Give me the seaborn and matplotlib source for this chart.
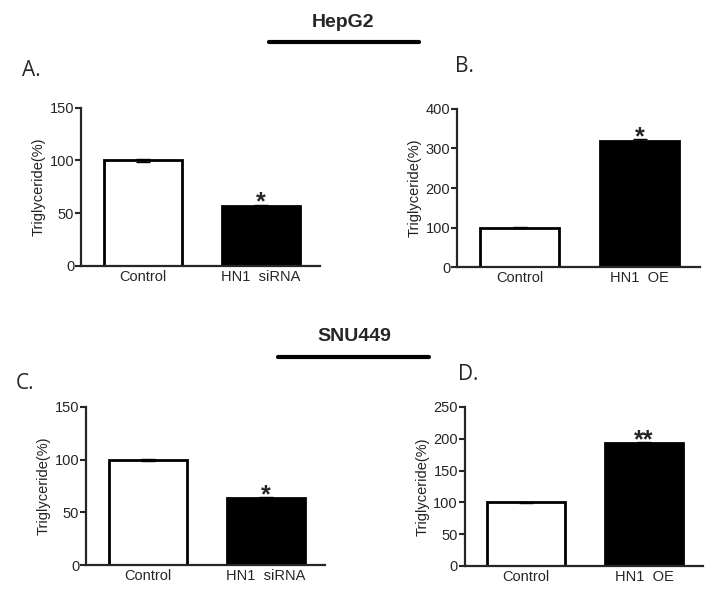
import matplotlib
matplotlib.use("Agg")
import matplotlib.pyplot as plt
import seaborn as sns
from matplotlib.lines import Line2D

# Data
groups_kd = ["Control", "HN1  siRNA"]
groups_oe = ["Control", "HN1  OE"]

hepg2_kd = [100, 57]
hepg2_kd_err = [1.0, 0.8]
hepg2_oe = [100, 320]
hepg2_oe_err = [1.5, 3.0]

snu449_kd = [100, 63.5]
snu449_kd_err = [0.8, 0.8]
snu449_oe = [100, 193]
snu449_oe_err = [1.0, 1.5]

sig_marks = ["*", "*", "*", "**"]

sns.set_style("ticks")
plt.rcParams["font.family"] = ["Liberation Sans", "DejaVu Sans"]

fig = plt.figure(figsize=(7.12, 5.95), dpi=100)

panels = [
    # rect, labels, values, errors, ylim, ticks, mark
    ([0.114, 0.553, 0.336, 0.266], groups_kd, hepg2_kd, hepg2_kd_err, 150, [0, 50, 100, 150], sig_marks[0]),
    ([0.642, 0.551, 0.341, 0.266], groups_oe, hepg2_oe, hepg2_oe_err, 400, [0, 100, 200, 300, 400], sig_marks[1]),
    ([0.121, 0.050, 0.336, 0.266], groups_kd, snu449_kd, snu449_kd_err, 150, [0, 50, 100, 150], sig_marks[2]),
    ([0.653, 0.049, 0.334, 0.267], groups_oe, snu449_oe, snu449_oe_err, 250, [0, 50, 100, 150, 200, 250], sig_marks[3]),
]

for rect, labels, vals, errs, ymax, ticks, mark in panels:
    ax = fig.add_axes(rect)
    sns.barplot(x=labels, y=vals, hue=labels, palette=["white", "black"],
                edgecolor="black", linewidth=2, width=0.66, legend=False, ax=ax)
    ax.errorbar([0, 1], vals, yerr=errs, fmt="none", ecolor="black",
                elinewidth=1, capsize=5, capthick=1)
    ax.set_xlim(-0.52, 1.5)
    ax.set_ylim(0, ymax)
    ax.set_yticks(ticks)
    ax.tick_params(axis="y", labelsize=10.5, width=1.5, length=4, pad=1)
    ax.tick_params(axis="x", labelsize=10.5, length=0, pad=3)
    ax.set_ylabel("Triglyceride(%)", fontsize=10.5, labelpad=3, color="#222222")
    ax.set_xlabel("")
    for s in ["left", "bottom"]:
        ax.spines[s].set_linewidth(1.6)
    sns.despine(ax=ax)
    ax.annotate(mark, xy=(1, vals[1] + errs[1]), xytext=(0, -7),
                textcoords="offset points", ha="center", va="bottom",
                fontsize=18, fontweight="bold")

# Panel letters
for lx, ly, letter in [(0.031, 0.882, "A."), (0.639, 0.889, "B."),
                       (0.022, 0.356, "C."), (0.643, 0.370, "D.")]:
    fig.text(lx, ly, letter, fontsize=15, family=["Open Sans", "DejaVu Sans"],
             va="center", ha="left")

# Cell line headers with underline
fig.text(0.482, 0.963, "HepG2", fontsize=14, fontweight="bold", ha="center", va="center")
fig.add_artist(Line2D([0.378, 0.589], [0.929, 0.929], color="black", linewidth=3,
                      transform=fig.transFigure))
fig.text(0.497, 0.434, "SNU449", fontsize=14, fontweight="bold", ha="center", va="center")
fig.add_artist(Line2D([0.390, 0.603], [0.400, 0.400], color="black", linewidth=3,
                      transform=fig.transFigure))

fig.savefig("out.png", dpi=100)
